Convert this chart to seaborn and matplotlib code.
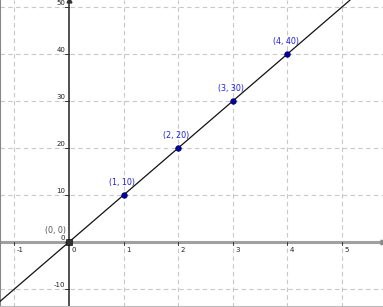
import matplotlib
matplotlib.use("Agg")
import matplotlib.pyplot as plt
import seaborn as sns
import pandas as pd

# data
pt_x = [1, 2, 3, 4]
pt_y = [10, 20, 30, 40]
pt_labels = ["(1, 10)", "(2, 20)", "(3, 30)", "(4, 40)"]
origin_x = [0]
origin_y = [0]
origin_label = "(0, 0)"
x_ticks = [-1, 0, 1, 2, 3, 4, 5]
y_ticks = [-10, 0, 10, 20, 30, 40, 50]
slope = 10

sns.set_theme(style="white")
plt.rcParams['font.family'] = ['DejaVu Sans']

fig = plt.figure(figsize=(3.83, 3.07), dpi=100)
ax = fig.add_axes([0, 0, 1, 1])
ax.set_xlim(-1.264, 5.751)
ax.set_ylim(-13.83, 51.49)

# grid
for xv in x_ticks:
    if xv != 0:
        ax.axvline(xv, color="#c8c8c8", lw=0.8, ls=(0, (4, 3)), zorder=0)
for yv in y_ticks:
    if yv != 0:
        ax.axhline(yv, color="#c8c8c8", lw=0.8, ls=(0, (4, 3)), zorder=0)

# axes
ax.axhline(0, color="#a0a0a0", lw=2.2, zorder=1)
ax.axvline(0, color="#333333", lw=1.2, zorder=1)
ax.plot([1], [0], marker=">", color="#888888", markersize=3.5, transform=ax.get_yaxis_transform(), clip_on=False, zorder=2)
ax.plot([0], [1], marker="^", color="#333333", markersize=3.5, transform=ax.get_xaxis_transform(), clip_on=False, zorder=2)

# tick labels
for xv in x_ticks:
    ax.plot([xv, xv], [0, -0.7], color="#333333", lw=0.7, zorder=2)
    ax.text(xv + 0.05, -1.0, str(xv), fontsize=5, color="#222222", ha="left", va="top")
for yv in y_ticks:
    ax.plot([-0.07, 0], [yv, yv], color="#333333", lw=0.7, zorder=2)
    ax.text(-0.07, yv + 0.2, str(yv), fontsize=5, color="#222222", ha="right", va="bottom")

# line y = 10x
ax.axline((origin_x[0], origin_y[0]), slope=slope, color="#111111", lw=0.9, zorder=3)

# points
df = pd.DataFrame({"x": pt_x, "y": pt_y})
sns.scatterplot(data=df, x="x", y="y", ax=ax, color="#0000a0", s=16, edgecolor="#000060", linewidth=0.5, zorder=4)
sns.scatterplot(x=origin_x, y=origin_y, ax=ax, color="#333333", marker="s", s=14, edgecolor="#111111", linewidth=0.5, zorder=4)

for x, y, lab in zip(pt_x, pt_y, pt_labels):
    ax.text(x - 0.27, y + 1.8, lab, fontsize=5.8, color="#2020e0", ha="left", va="bottom")
ax.text(-0.05, 1.5, origin_label, fontsize=5.8, color="#555555", ha="right", va="bottom")

ax.set_xlabel("")
ax.set_ylabel("")
ax.set_xticks([])
ax.set_yticks([])
for s in ["top", "right"]:
    ax.spines[s].set_visible(False)
ax.spines["left"].set_color("#888888")
ax.spines["left"].set_linewidth(1.5)
ax.spines["bottom"].set_color("#bbbbbb")
ax.spines["bottom"].set_linewidth(1.5)

fig.savefig("out.png", dpi=100)
